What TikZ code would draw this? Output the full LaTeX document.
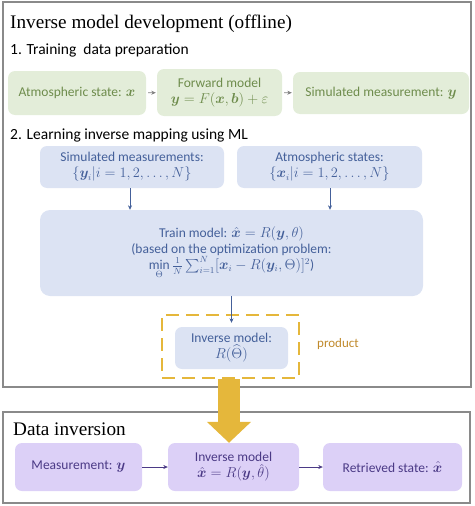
\documentclass[tikz,border=0pt]{standalone}
\usepackage{bm}
\usepackage{amsmath,amssymb}
\usepackage{fontspec}
\setmainfont{Carlito}
\newfontfamily\titlefont{Liberation Serif}
\usetikzlibrary{arrows.meta}
\definecolor{greenfill}{HTML}{E3EDD9}
\definecolor{greentext}{HTML}{6E8C4C}
\definecolor{bluefill}{HTML}{DCE3F3}
\definecolor{bluetext}{HTML}{44609A}
\definecolor{purplefill}{HTML}{DCD0F7}
\definecolor{purpletext}{HTML}{4B3A86}
\definecolor{gold}{HTML}{E5B73B}
\definecolor{prodtext}{HTML}{C08A2C}
\definecolor{framegray}{HTML}{8A8A8A}
\tikzstyle{greenbox} = [fill=greenfill, text=greentext, rounded corners=7pt, align=center, font=\fontsize{13.5}{16}\selectfont, inner sep=0pt]
\tikzstyle{bluebox} = [fill=bluefill, text=bluetext, rounded corners=7pt, align=center, font=\fontsize{13.5}{16}\selectfont, inner sep=0pt]
\tikzstyle{purplebox} = [fill=purplefill, text=purpletext, rounded corners=7pt, align=center, font=\fontsize{13.5}{16}\selectfont, inner sep=0pt]
\tikzstyle{heading} = [anchor=base west, inner sep=0pt, font=\fontsize{15.5}{18}\selectfont]
\tikzstyle{title} = [anchor=base west, inner sep=0pt, font=\fontsize{19.2}{23}\titlefont]
\tikzstyle{frame} = [draw=framegray, line width=1.2pt]
\tikzstyle{link} = [-{Stealth[length=4.5pt,width=4pt]}, line width=0.6pt]

\begin{document}
\begin{tikzpicture}[x=1pt, y=-1pt]
  \useasboundingbox (0,0) rectangle (474,506);
  % frames
  \draw [frame] (3,2) rectangle (471,387);
  \draw [frame] (3,412) rectangle (470,503);
  \node (t0) at (10,28) [title] {Inverse model development (offline)};
  \node (t1) at (10,54) [heading] {1. Training\ \ data preparation};
  \node (t2) at (10,139) [heading] {2. Learning inverse mapping using ML};
  \node (t3) at (13,435) [title] {Data inversion};
  % training data
  \node (tin) at (77,93) [greenbox, minimum width=138pt, minimum height=44pt] {Atmospheric state: $\bm{x}$};
  \node (tfwd) at (219.5,92.5) [greenbox, minimum width=125pt, minimum height=47pt] {Forward model\\ $\bm{y}=F(\bm{x},\bm{b})+\varepsilon$};
  \node (tsim) at (381,93) [greenbox, minimum width=176pt, minimum height=42pt] {Simulated measurement: $\bm{y}$};
  % learning
  \node (msim) at (132,167) [bluebox, minimum width=184pt, minimum height=42pt] {Simulated measurements:\\ $\{\bm{y}_i|i=1,2,\dots,N\}$};
  \node (mstate) at (329.5,167) [bluebox, minimum width=185pt, minimum height=42pt] {Atmospheric states:\\ $\{\bm{x}_i|i=1,2,\dots,N\}$};
  \node (train) at (231.5,253) [bluebox, minimum width=383pt, minimum height=86pt, rounded corners=10pt] {Train model: $\hat{\bm{x}}=R(\bm{y},\theta)$\\ (based on the optimization problem:\\ $\min\limits_{\Theta}\tfrac{1}{N}\sum\nolimits_{i=1}^{N}[\bm{x}_i-R(\bm{y}_i,\Theta)]^2$)};
  \node (prod) at (230.5,346.5) [draw=gold, line width=2.2pt, dash pattern=on 13pt off 7pt, minimum width=137pt, minimum height=63pt] {};
  \node (inv) at (231.5,348) [bluebox, minimum width=113pt, minimum height=42pt] {Inverse model:\\ $R(\widehat{\Theta})$};
  \node (prodl) at (338,344) [text=prodtext, font=\fontsize{13}{15}\selectfont] {product};
  % data inversion
  \node (dmeas) at (78.5,467) [purplebox, minimum width=127pt, minimum height=48pt] {Measurement: $\bm{y}$};
  \node (dinv) at (233.5,467) [purplebox, minimum width=131pt, minimum height=48pt] {Inverse model\\ $\hat{\bm{x}}=R(\bm{y},\hat{\theta})$};
  \node (dret) at (392.5,467) [purplebox, minimum width=139pt, minimum height=48pt] {Retrieved state: $\hat{\bm{x}}$};
  % connectors
  \draw [link, gray, shorten <=2pt, shorten >=1pt] (tin) -- (tfwd);
  \draw [link, gray, shorten <=2pt, shorten >=1pt] (tfwd) -- (tsim);
  \draw [link, bluetext] (msim.south -| 130,0) -- (train.north -| 130,0);
  \draw [link, bluetext] (mstate.south -| 330,0) -- (train.north -| 330,0);
  \draw [link, bluetext, shorten >=4pt] (train) -- (inv);
  \draw [link, purpletext] (dmeas) -- (dinv);
  \draw [link, purpletext] (dinv) -- (dret);
  \draw [-{Triangle[width=43pt,length=21pt]}, gold, line width=22pt] (prod.south -| 229,0) -- (dinv.north -| 229,0);
\end{tikzpicture}
\end{document}
